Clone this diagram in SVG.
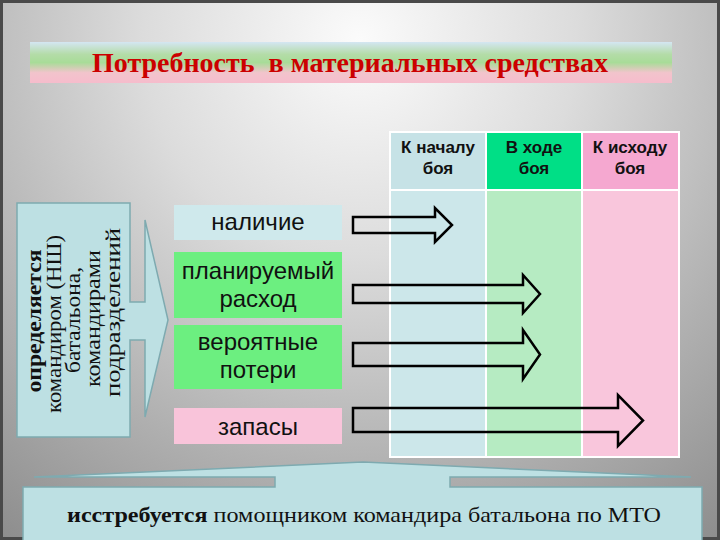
<svg xmlns="http://www.w3.org/2000/svg" width="720" height="540" viewBox="0 0 720 540">
<defs>
<radialGradient id="bg" cx="360" cy="40" r="620" gradientUnits="userSpaceOnUse">
<stop offset="0" stop-color="#fbfbfb"/>
<stop offset="0.35" stop-color="#dcdcdc"/>
<stop offset="0.7" stop-color="#b0b0b0"/>
<stop offset="1" stop-color="#8c8c8c"/>
</radialGradient>
<linearGradient id="tb" x1="0" y1="0" x2="0" y2="1">
<stop offset="0" stop-color="#d4e6f2"/>
<stop offset="0.3" stop-color="#b4dca8"/>
<stop offset="0.5" stop-color="#a8dc98"/>
<stop offset="0.75" stop-color="#f2c4cc"/>
<stop offset="1" stop-color="#f6bccc"/>
</linearGradient>
<style>
.lbl{font-family:"Liberation Sans",Arial,sans-serif;font-size:24px;fill:#111;text-anchor:middle}
.hdr{font-family:"Liberation Sans",Arial,sans-serif;font-size:17px;font-weight:bold;fill:#111;text-anchor:middle}
.vt{font-family:"Liberation Serif","Times New Roman",serif;font-size:20px;fill:#111;text-anchor:middle}
.arr{fill:none;stroke:#000;stroke-width:2.5;stroke-linejoin:miter}
.callout{fill:#bde0e3;stroke:#7eaab0;stroke-width:1.5}
</style>
</defs>
<rect x="0" y="0" width="720" height="540" fill="url(#bg)"/>
<rect x="1.5" y="1.5" width="717" height="537" fill="none" stroke="#4a4a4a" stroke-width="3"/>

<g id="title">
<rect x="30" y="42" width="642" height="41" fill="url(#tb)"/>
<text x="92" y="72" textLength="516" lengthAdjust="spacingAndGlyphs" font-family="'Liberation Serif','Times New Roman',serif" font-size="28" font-weight="bold" fill="#cc0000">Потребность&#160; в материальных средствах</text>
</g>

<g id="table">
<rect x="389" y="131" width="291" height="327" fill="#ffffff"/>
<rect x="391" y="133" width="94" height="56" fill="#c6e2e6"/>
<rect x="487" y="133" width="94" height="56" fill="#00df86"/>
<rect x="583" y="133" width="95" height="56" fill="#f5a8d0"/>
<rect x="391" y="191" width="94" height="265" fill="#cce7ea"/>
<rect x="487" y="191" width="94" height="265" fill="#b6ebc2"/>
<rect x="583" y="191" width="95" height="265" fill="#f9c6dc"/>
<text class="hdr" x="438" y="153">К началу</text>
<text class="hdr" x="438" y="174">боя</text>
<text class="hdr" x="534" y="153">В ходе</text>
<text class="hdr" x="534" y="174">боя</text>
<text class="hdr" x="630" y="153">К исходу</text>
<text class="hdr" x="630" y="174">боя</text>
</g>

<g id="left-callout">
<path class="callout" d="M17,203 H130 V302 H145 V220 L168,320 L145,417 V340 H130 V437 H17 Z"/>
<text class="vt" font-weight="bold" transform="translate(41,321) rotate(-90)" textLength="143" lengthAdjust="spacingAndGlyphs">определяется</text>
<text class="vt" transform="translate(60.5,324) rotate(-90)" textLength="178" lengthAdjust="spacingAndGlyphs">командиром (НШ)</text>
<text class="vt" transform="translate(80,320) rotate(-90)" textLength="106" lengthAdjust="spacingAndGlyphs">батальона,</text>
<text class="vt" transform="translate(100,318.5) rotate(-90)" textLength="137" lengthAdjust="spacingAndGlyphs">командирами</text>
<text class="vt" transform="translate(119.5,312.5) rotate(-90)" textLength="169" lengthAdjust="spacingAndGlyphs">подразделений</text>
</g>

<g id="n-nalichie">
<rect x="174" y="205" width="168" height="35" fill="#cfe9ec"/>
<text class="lbl" x="258" y="230">наличие</text>
</g>
<g id="n-rashod">
<rect x="174" y="252" width="168" height="66" fill="#6cef80"/>
<text class="lbl" x="258" y="279">планируемый</text>
<text class="lbl" x="258" y="307">расход</text>
</g>
<g id="n-poteri">
<rect x="174" y="325" width="168" height="64" fill="#6cef80"/>
<text class="lbl" x="258" y="350">вероятные</text>
<text class="lbl" x="258" y="378">потери</text>
</g>
<g id="n-zapasy">
<rect x="174" y="408" width="168" height="36" fill="#f9c4da"/>
<text class="lbl" x="258" y="435">запасы</text>
</g>

<g id="connectors">
<path class="arr" d="M353,217 H435 V208 L452,225 L435,242 V233 H353 Z"/>
<path class="arr" d="M353,285 H523 V275 L540,294 L523,313 V303 H353 Z"/>
<path class="arr" d="M353,343 H523 V330 L540,354.5 L523,379 V366 H353 Z"/>
<path class="arr" d="M353,408 H618 V395 L643,420.5 L618,446 V432 H353 Z"/>
</g>

<g id="bottom-callout">
<path class="callout" d="M23,541 V487 H275 V477 H34 L363,462 L691,477 H450 V487 H702 V541 Z"/>
<text x="67" y="522" textLength="594" lengthAdjust="spacingAndGlyphs" font-family="'Liberation Serif','Times New Roman',serif" font-size="21" fill="#111"><tspan font-weight="bold">исстребуется</tspan> помощником командира батальона по МТО</text>
</g>
</svg>
